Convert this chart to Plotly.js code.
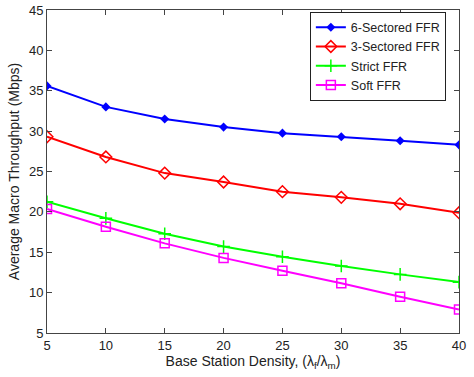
<!DOCTYPE html>
<html>
<head>
<meta charset="utf-8">
<script src="https://cdn.plot.ly/plotly-3.0.1.min.js"></script>
<style>html,body{margin:0;padding:0;background:#fff;}#plot{width:474px;height:377px;}</style>
</head>
<body>
<div id="plot"></div>
<script>
const density = [5, 10, 15, 20, 25, 30, 35, 40];
const sector6 = [35.6, 33.0, 31.5, 30.5, 29.75, 29.3, 28.8, 28.3];
const sector3 = [29.3, 26.8, 24.8, 23.7, 22.5, 21.8, 21.0, 19.9];
const strict = [21.25, 19.2, 17.3, 15.7, 14.45, 13.3, 12.26, 11.3];
const soft = [20.35, 18.15, 16.1, 14.3, 12.7, 11.15, 9.5, 7.9];
const names = ['6-Sectored FFR', '3-Sectored FFR', 'Strict FFR', 'Soft FFR'];
const xTicks = [5, 10, 15, 20, 25, 30, 35, 40];
const yTicks = [5, 10, 15, 20, 25, 30, 35, 40, 45];

const fam = 'Liberation Sans, Arial, sans-serif';
const font = {family: fam, size: 13, color: '#222'};
const titleFont = {family: fam, size: 14, color: '#222'};
const traces = [
  {x: density, y: sector6, name: names[0], mode: 'lines+markers',
   line: {color: '#0000ff', width: 2}, marker: {symbol: 'diamond', size: 7, color: '#0000ff'}},
  {x: density, y: sector3, name: names[1], mode: 'lines+markers',
   line: {color: '#ff0000', width: 2}, marker: {symbol: 'diamond-open', size: 9, color: '#ff0000', line: {width: 1.5}}},
  {x: density, y: strict, name: names[2], mode: 'lines+markers',
   line: {color: '#00ff00', width: 2}, marker: {symbol: 'cross-thin-open', size: 9, color: '#00ff00', line: {width: 1.5, color: '#00ff00'}}},
  {x: density, y: soft, name: names[3], mode: 'lines+markers',
   line: {color: '#ff00ff', width: 2}, marker: {symbol: 'square-open', size: 9, color: '#ff00ff', line: {width: 1.5}}}
];
const axisCommon = {
  showline: true, linecolor: '#444', linewidth: 1, mirror: 'ticks',
  ticks: 'inside', ticklen: 5, tickcolor: '#444', showgrid: false, zeroline: false,
  tickfont: font
};
const layout = {
  width: 474, height: 377,
  margin: {l: 47, r: 15, t: 10, b: 44},
  paper_bgcolor: '#fff', plot_bgcolor: '#fff',
  font: font,
  showlegend: true,
  legend: {x: 0.638, y: 0.995, xanchor: 'left', yanchor: 'top',
    bordercolor: '#222', borderwidth: 1, bgcolor: '#fff',
    font: {family: fam, size: 12.5, color: '#222'},
    tracegroupgap: 0},
  xaxis: Object.assign({}, axisCommon, {range: [5, 40], tickvals: xTicks,
    title: {text: 'Base Station Density, (λ<sub>f</sub>/λ<sub>m</sub>)', font: titleFont, standoff: 4}}),
  yaxis: Object.assign({}, axisCommon, {range: [5, 45], tickvals: yTicks,
    title: {text: 'Average Macro Throughput (Mbps)', font: titleFont, standoff: 6}})
};
Plotly.newPlot('plot', traces, layout, {displayModeBar: false, staticPlot: true});
</script>
</body>
</html>
